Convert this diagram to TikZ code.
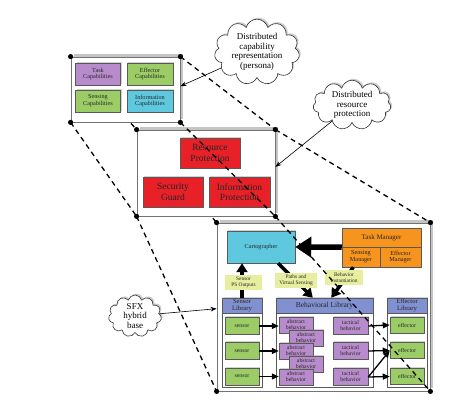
\documentclass[tikz,border=0pt]{standalone}
\usepackage{fontspec}
\setmainfont{Liberation Serif}
\usetikzlibrary{arrows.meta,shapes.symbols,shadows,calc}
\pgfdeclarelayer{lA}\pgfdeclarelayer{lB}\pgfdeclarelayer{lC}\pgfdeclarelayer{lD}
\pgfsetlayers{lA,lB,lC,lD,main}
\definecolor{cpurple}{RGB}{184,140,204}
\definecolor{cgreen}{RGB}{155,204,102}
\definecolor{ccyan}{RGB}{94,200,222}
\definecolor{cred}{RGB}{232,32,40}
\definecolor{corange}{RGB}{247,148,30}
\definecolor{cblue}{RGB}{128,144,208}
\definecolor{cyel}{RGB}{232,238,160}
\newcommand{\fcap}{\fontsize{6.2}{6.8}\selectfont}
\newcommand{\fmid}{\fontsize{9.5}{10.5}\selectfont}
\newcommand{\fcloud}{\fontsize{9}{9.6}\selectfont}
\newcommand{\fsm}{\fontsize{6.2}{6.8}\selectfont}
\newcommand{\fhd}{\fontsize{6.6}{6.6}\selectfont}
\newcommand{\fbl}{\fontsize{7.5}{8}\selectfont}
\newcommand{\ftn}{\fontsize{5.8}{6}\selectfont}
\newcommand{\flb}{\fontsize{5.4}{5.8}\selectfont}
\begin{document}
\begin{tikzpicture}[x=1pt,y=-1pt,
  box/.style={draw=black!65, line width=0.5pt, inner sep=0pt, align=center, text=black!85},
  sh/.style={drop shadow={shadow xshift=1.2pt, shadow yshift=1.2pt, opacity=0.35}},
  panel/.style={draw=black!55, line width=0.8pt, fill=white, inner sep=0pt,
    drop shadow={shadow xshift=2.5pt, shadow yshift=2.5pt, opacity=0.45}},
  lbl/.style={fill=cyel, inner sep=0pt, align=center, font=\flb, text=black!85},
  cloudn/.style={cloud, cloud puffs=11, cloud ignores aspect, draw=black!80, fill=white,
    line width=0.6pt, align=center, inner sep=0pt, font=\fcloud,
    drop shadow={shadow xshift=1.5pt, shadow yshift=1.5pt, opacity=0.4}},
  dashline/.style={line width=1.3pt, dash pattern=on 5pt off 4pt},
  bigarrow/.style={line width=5.5pt, -{Triangle[length=16pt,width=20pt]}},
  medarrow/.style={line width=3.5pt, -{Triangle[length=9pt,width=11pt]}},
  smallarrow/.style={line width=1.3pt, -{Triangle[length=7pt,width=6pt]}},
  thinarrow/.style={line width=0.6pt, -{Stealth[length=6pt,width=4.5pt]}},
  dot/.style={fill=black}
]
\begin{pgfonlayer}{lA}
\fill[white] (0,0) rectangle (474,411);
\end{pgfonlayer}
\useasboundingbox (0,0) rectangle (474,411);

% ---------- bottom panel ----------
\begin{pgfonlayer}{lA}
\node[panel, minimum width=213pt, minimum height=168pt] (P3) at (323.5,307) {};
\node[box, fill=ccyan, sh, minimum width=68pt, minimum height=32pt, font=\fsm] (Cart) at (261,247) {Cartographer};
\node[box, fill=corange, minimum width=79pt, minimum height=19pt, font=\fontsize{7}{7.5}\selectfont] (TM) at (381.5,237.5) {Task Manager};
\node[box, fill=corange, minimum width=38pt, minimum height=20pt, font=\fsm] (SM) at (361,257) {Sensing\\Manager};
\node[box, fill=corange, minimum width=41pt, minimum height=20pt, font=\fsm] (EM) at (400.5,257) {Effector\\Manager};
% libraries
\node[box, fill=white, sh, minimum width=40pt, minimum height=89pt] (SL) at (242,342.5) {};
\node[box, fill=cblue, minimum width=40pt, minimum height=15pt, font=\fhd] (SLh) at (242,305.5) {Sensor\\Library};
\node[box, fill=white, sh, minimum width=97pt, minimum height=89pt] (BL) at (324.5,342.5) {};
\node[box, fill=cblue, minimum width=97pt, minimum height=15pt, font=\fbl] (BLh) at (324.5,305.5) {Behavioral Library};
\node[box, fill=white, sh, minimum width=40pt, minimum height=89pt] (EL) at (407,342.5) {};
\node[box, fill=cblue, minimum width=40pt, minimum height=15pt, font=\fhd] (ELh) at (407,305.5) {Effector\\Library};
% sensors
\node[box, fill=cgreen, sh, minimum width=34pt, minimum height=17pt, font=\ftn] (s1) at (242,326) {sensor};
\node[box, fill=cgreen, sh, minimum width=34pt, minimum height=17pt, font=\ftn] (s2) at (242,351) {sensor};
\node[box, fill=cgreen, sh, minimum width=34pt, minimum height=17pt, font=\ftn] (s3) at (242,376.5) {sensor};
% abstract behaviors
\node[box, fill=cpurple, sh, minimum width=34pt, minimum height=16pt, font=\ftn] (ab1) at (296,325) {abstract\\behavior};
\node[box, fill=cpurple, sh, minimum width=34pt, minimum height=16pt, font=\ftn] (ab2) at (306,338) {abstract\\behavior};
\node[box, fill=cpurple, sh, minimum width=34pt, minimum height=16pt, font=\ftn] (ab3) at (296,351) {abstract\\behavior};
\node[box, fill=cpurple, sh, minimum width=34pt, minimum height=16pt, font=\ftn] (ab4) at (306,364) {abstract\\behavior};
\node[box, fill=cpurple, sh, minimum width=34pt, minimum height=16pt, font=\ftn] (ab5) at (296,377) {abstract\\behavior};
% tactical behaviors
\node[box, fill=cpurple, sh, minimum width=35pt, minimum height=17pt, font=\ftn] (t1) at (350.5,326) {tactical\\behavior};
\node[box, fill=cpurple, sh, minimum width=35pt, minimum height=17pt, font=\ftn] (t2) at (350.5,351) {tactical\\behavior};
\node[box, fill=cpurple, sh, minimum width=35pt, minimum height=17pt, font=\ftn] (t3) at (350.5,377) {tactical\\behavior};
% effectors
\node[box, fill=cgreen, sh, minimum width=34pt, minimum height=16pt, font=\ftn] (e1) at (407,325) {effector};
\node[box, fill=cgreen, sh, minimum width=34pt, minimum height=16pt, font=\ftn] (e2) at (407,350.5) {effector};
\node[box, fill=cgreen, sh, minimum width=34pt, minimum height=16pt, font=\ftn] (e3) at (407,376.5) {effector};
% arrows
\draw[bigarrow] (TM.south west) -- (Cart.east);
\draw[medarrow] (SLh.north) -- (SLh.north |- Cart.south);
\draw[medarrow] ($(Cart.south)!0.5!(Cart.south east)$) -- ($(BLh.north west)!0.38!(BLh.north east)$);
\draw[medarrow] ($(SM.south west)!0.6!(SM.south)$) -- ($(BLh.north west)!0.57!(BLh.north east)$);
\draw[smallarrow] (s1.east) -- (s1.east -| ab1.west);
\draw[smallarrow] (s2.east) -- (s2.east -| ab3.west);
\draw[smallarrow] (s3.east) -- (s3.east -| ab5.west);
\draw[smallarrow] (t1.east) -- (e1.west);
\draw[smallarrow] (t2.east) -- (e2.west);
\draw[smallarrow] (t3.east) -- (e3.west);
\draw[smallarrow] (t3.east) -- (e2.west);
% labels
\node[lbl, minimum width=37pt, minimum height=15pt] (SPS) at (243.5,282.5) {Sensor\\PS Outputs};
\node[lbl, minimum width=42pt, minimum height=15pt] (PVS) at (296,280.5) {Paths and\\Virtual Sensing};
\node[lbl, minimum width=38pt, minimum height=15pt] (BI) at (344,277.5) {Behavior\\Instantiation};
\end{pgfonlayer}

% ---------- middle panel ----------
\begin{pgfonlayer}{lC}
\node[panel, minimum width=138pt, minimum height=86pt] (P2) at (206,173) {};
\node[box, fill=cred, sh, minimum width=60pt, minimum height=30pt, font=\fmid] (RP) at (210,153) {Resource\\Protection};
\node[box, fill=cred, sh, minimum width=60pt, minimum height=30pt, font=\fmid] (SG) at (173,192) {Security\\Guard};
\node[box, fill=cred, sh, minimum width=61pt, minimum height=30pt, font=\fmid] (IP) at (239.5,192) {Information\\Protection};
\end{pgfonlayer}

% ---------- top panel ----------
\node[panel, minimum width=109pt, minimum height=65pt] (P1) at (125.5,89.5) {};
\node[box, fill=cpurple, sh, minimum width=45pt, minimum height=22pt, font=\fcap] (TC) at (98,74) {Task\\Capabilities};
\node[box, fill=cgreen, sh, minimum width=46pt, minimum height=22pt, font=\fcap] (EC) at (150,74) {Effector\\Capabilities};
\node[box, fill=cgreen, sh, minimum width=45pt, minimum height=22pt, font=\fcap] (SC) at (98,101) {Sensing\\Capabilities};
\node[box, fill=ccyan, sh, minimum width=46pt, minimum height=22pt, font=\fcap] (IC) at (150,101) {Information\\Capabilities};

% ---------- dashed projection lines ----------
\begin{pgfonlayer}{lB}
\draw[dashline] (P2.north west) -- (P3.north west);
\draw[dashline] (P2.north east) -- (P3.north east);
\draw[dashline] (P2.south west) -- (P3.south west);
\draw[dashline] (P2.south east) -- (P3.south east);
\end{pgfonlayer}
\begin{pgfonlayer}{lD}
\draw[dashline] (P1.north west) -- (P2.north west);
\draw[dashline] (P1.north east) -- (P2.north east);
\draw[dashline] (P1.south west) -- (P2.south west);
\draw[dashline] (P1.south east) -- (P2.south east);
\end{pgfonlayer}

% ---------- clouds ----------
\node[cloudn, minimum width=85pt, minimum height=60pt] (C1) at (257,52) {Distributed\\capability\\representation\\(persona)};
\node[cloudn, minimum width=78pt, minimum height=44pt] (C2) at (352,105) {Distributed\\resource\\protection};
\node[cloudn, minimum width=53pt, minimum height=42pt] (C3) at (135,316) {SFX\\hybrid\\base};
\coordinate (a1) at ($(P1.north east)!0.45!(P1.south east)$);
\coordinate (a2) at ($(P2.north east)!0.43!(P2.south east)$);
\coordinate (a3) at ($(P3.north west)!0.51!(P3.south west)$);
\draw[thinarrow] (C1) -- (a1);
\draw[thinarrow] (C2) -- (a2);
\draw[thinarrow] (C3) -- (a3);

% ---------- corner dots ----------
\foreach \p in {P1,P2,P3}{
  \foreach \c in {north west,north east,south west,south east}{
    \fill[dot] (\p.\c) circle (2.6pt);
  }
}
\end{tikzpicture}
\end{document}
